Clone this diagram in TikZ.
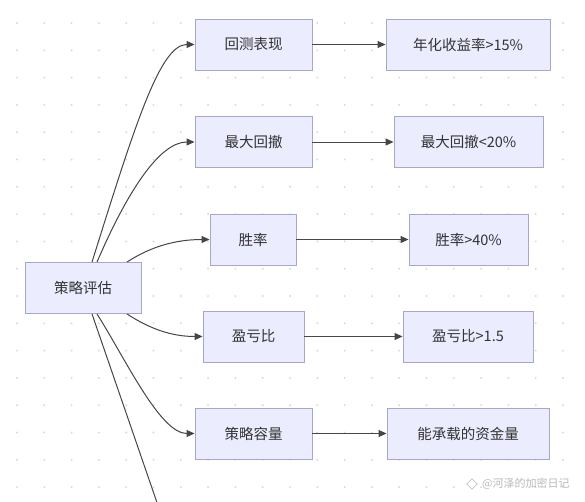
\documentclass[tikz,border=0pt]{standalone}
\usepackage{fontspec}
\setmainfont{Noto Sans CJK SC}
\usetikzlibrary{arrows.meta}
\definecolor{boxfill}{RGB}{236,236,255}
\definecolor{boxline}{RGB}{168,166,205}
\definecolor{txt}{RGB}{51,51,51}
\definecolor{edge}{RGB}{70,70,70}
\definecolor{dotc}{RGB}{218,218,218}
\definecolor{wm}{RGB}{185,185,185}
\tikzset{
  box/.style={draw=boxline, fill=boxfill, line width=0.9pt, minimum height=51pt,
    inner sep=0pt, text=txt, font=\fontsize{14.5}{16}\selectfont},
  link/.style={draw=edge, line width=1.0pt, -{Triangle[length=8pt,width=7pt]}},
  bare/.style={draw=edge, line width=1.0pt}
}
\begin{document}
\begin{tikzpicture}[x=1pt,y=-1pt]
\useasboundingbox (0,0) rectangle (585,501);
\fill[white] (0,0) rectangle (585,501);
% dot grid
\foreach \i in {0,...,20}{
  \foreach \j in {0,...,17}{
    \fill[dotc] ({17+27.3*\i},{23+27.3*\j}) circle (1.1pt);
  }
}
% nodes
\node[box, minimum width=116pt] (E) at (83,288) {策略评估};
\node[box, minimum width=117pt] (A1) at (253.5,44.5) {回测表现};
\node[box, minimum width=164pt] (B1) at (468,44.5) {年化收益率>15\%};
\node[box, minimum width=117pt] (A2) at (253.5,142) {最大回撤};
\node[box, minimum width=149pt] (B2) at (468.5,142) {最大回撤<20\%};
\node[box, minimum width=86pt] (A3) at (253,239.5) {胜率};
\node[box, minimum width=119pt] (B3) at (468.5,239.5) {胜率>40\%};
\node[box, minimum width=101pt] (A4) at (253.5,336.5) {盈亏比};
\node[box, minimum width=130pt] (B4) at (468,336.5) {盈亏比>1.5};
\node[box, minimum width=117pt] (A5) at (253.5,433.5) {策略容量};
\node[box, minimum width=162pt] (B5) at (468,433.5) {能承载的资金量};
\coordinate (off) at (163,520);
% curved edges from E
\draw[link] ([xshift=9pt]E.north) .. controls (135,125) and (160,44.5) .. (A1.west);
\draw[link] ([xshift=14pt]E.north) .. controls (128,190) and (160,142) .. (A2.west);
\draw[link] ([xshift=44pt]E.north) .. controls (150,247) and (175,239.5) .. (A3.west);
\draw[link] ([xshift=44pt]E.south) .. controls (150,329) and (172,336.5) .. (A4.west);
\draw[link] ([xshift=14pt]E.south) .. controls (125,358) and (160,433.5) .. (A5.west);
\draw[bare] ([xshift=9pt]E.south) -- (off);
% horizontal edges
\draw[link] (A1) -- (B1);
\draw[link] (A2) -- (B2);
\draw[link] (A3) -- (B3);
\draw[link] (A4) -- (B4);
\draw[link] (A5) -- (B5);
% watermark
\node[draw=wm, line width=0.6pt, rotate=45, minimum size=7.5pt, inner sep=0pt] (wmicon) at (472,484) {};
\node[text=wm, font=\fontsize{11}{13}\selectfont, anchor=west, inner sep=0pt] (wmtext) at (482,484) {@河泽的加密日记};
\end{tikzpicture}
\end{document}
